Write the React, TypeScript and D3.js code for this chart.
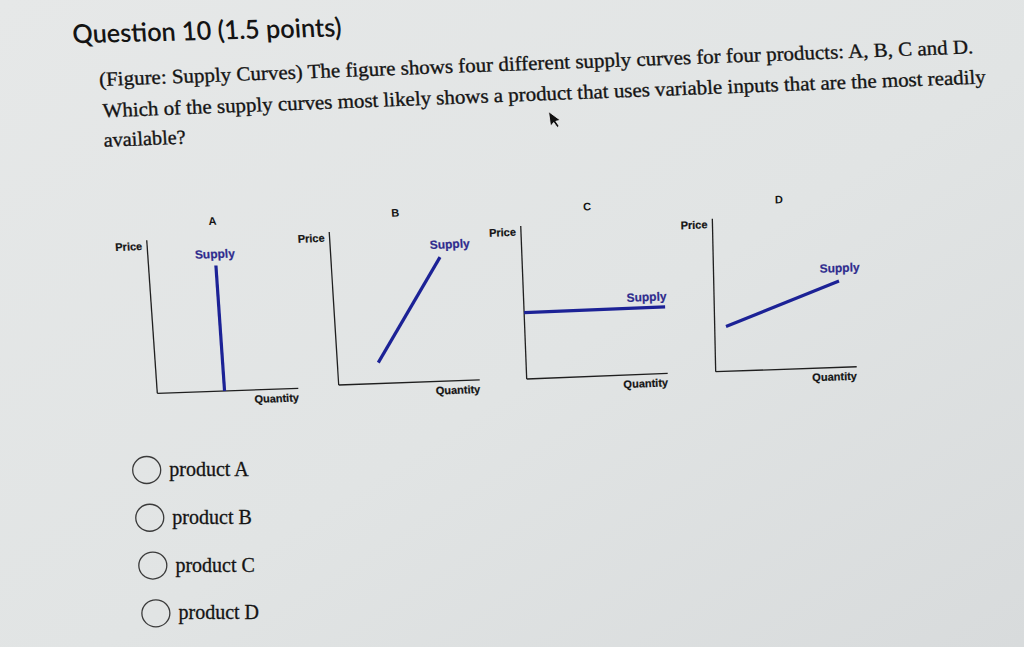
import React from "react";
import * as d3 from "d3";

// ---- content / data ----
const title = "Question 10 (1.5 points)";
const bodyLines = [
  "(Figure: Supply Curves) The figure shows four different supply curves for four products: A, B, C and D.",
  "Which of the supply curves most likely shows a product that uses variable inputs that are the most readily",
  "available?",
];
const options = ["product A", "product B", "product C", "product D"];

const panelNames = ["A", "B", "C", "D"];
// supply curve endpoints in (quantity, price) units, domain 0..10
const supplyQ = [[4.77, 4.77], [2.9, 7.73], [0, 10], [0.8, 8.88]];
const supplyP = [[0, 8.2], [1.37, 8.1], [4.34, 4.34], [2.93, 5.64]];
// "Supply" label anchors in the same units
const supplyLabelQ = [4.75, 8.47, 8.71, 8.94];
const supplyLabelP = [8.68, 8.66, 4.77, 6.23];
const axisX = "Quantity";
const axisY = "Price";
const curveLabel = "Supply";

// ---- layout (photo perspective approximated per panel) ----
const W = 1024;
const H = 647;
const panelFrames = [
  { x: 157.3, y: 393.3, slope: -0.035, lean: 0.069 },
  { x: 338.7, y: 385.0, slope: -0.036, lean: 0.062 },
  { x: 526.7, y: 379.0, slope: -0.04, lean: 0.039 },
  { x: 715.7, y: 371.7, slope: -0.035, lean: 0.022 },
];
const bodyFrames = [
  { x: 99.5, y: 86, slope: -0.0374, lean: 0.06, len: 874 },
  { x: 103, y: 117.3, slope: -0.0385, lean: 0.06, len: 883 },
  { x: 104, y: 146.7, slope: -0.038, lean: 0.06, len: 82 },
];

const xScale = d3.scaleLinear().domain([0, 10]).range([0, 141]);
const yScale = d3.scaleLinear().domain([0, 10]).range([0, -153]);
const optY = d3.scalePoint<string>().domain(options).range([470, 613.3]);

const LINE = "#1c2296";
const LABEL = "#2f2c8e";
const AXIS = "#1f1f1f";
const INK = "#141414";
const SANS = "'Liberation Sans', Arial, Helvetica, sans-serif";
const SERIF = "'Liberation Serif', 'Times New Roman', Times, serif";

function Panel({ i }: { i: number }) {
  const f = panelFrames[i];
  const line = d3.line<[number, number]>()
    .x((d) => xScale(d[0]))
    .y((d) => yScale(d[1]));
  const pts: [number, number][] = [
    [supplyQ[i][0], supplyP[i][0]],
    [supplyQ[i][1], supplyP[i][1]],
  ];
  const [x0, x1] = xScale.range();
  const [y0, y1] = yScale.range();
  return (
    <g transform={`matrix(1,${f.slope},${f.lean},1,${f.x},${f.y})`}>
      <line x1={x0} y1={y0} x2={x0} y2={y1} stroke={AXIS} strokeWidth={1.3} />
      <line x1={x0} y1={y0} x2={x1} y2={y0} stroke={AXIS} strokeWidth={1.3} />
      <path d={line(pts) || ""} stroke={LINE} strokeWidth={3.2} fill="none" />
      <text x={67} y={-166} textAnchor="middle" fontFamily={SANS} fontWeight="bold" fontSize={11} fill={INK}>
        {panelNames[i]}
      </text>
      <text x={-5} y={-143.5} textAnchor="end" fontFamily={SANS} fontWeight="bold" fontSize={11} fill={INK}
        stroke={INK} strokeWidth={0.2}>
        {axisY}
      </text>
      <text x={x1} y={13} textAnchor="end" fontFamily={SANS} fontWeight="bold" fontSize={11} fill={INK}
        stroke={INK} strokeWidth={0.2}>
        {axisX}
      </text>
      <text
        x={xScale(supplyLabelQ[i])}
        y={yScale(supplyLabelP[i])}
        textAnchor="middle"
        fontFamily={SANS}
        fontWeight="bold"
        fontSize={12}
        fill={LABEL}
        stroke={LABEL}
        strokeWidth={0.2}
      >
        {curveLabel}
      </text>
    </g>
  );
}

export default function App() {
  return (
    <svg
      width={W}
      height={H}
      viewBox={`0 0 ${W} ${H}`}
      style={{ position: "absolute", left: 0, top: 0, display: "block" }}
    >
      <defs>
        <linearGradient id="bg" x1="0" y1="0" x2="1" y2="1">
          <stop offset="0" stopColor="#e6e8e8" />
          <stop offset="0.55" stopColor="#e1e4e4" />
          <stop offset="1" stopColor="#d8dbdc" />
        </linearGradient>
      </defs>
      <rect x={0} y={0} width={W} height={H} fill="url(#bg)" />

      <g transform={`matrix(1,-0.026,0.07,1,73,43.3)`}>
        <text x={0} y={0} fontFamily="Lato, 'Open Sans', sans-serif" fontWeight={600} fontSize={26} fill={INK}
          textLength={269} lengthAdjust="spacingAndGlyphs">
          {title}
        </text>
      </g>

      {bodyLines.map((t, k) => {
        const f = bodyFrames[k];
        return (
          <g key={k} transform={`matrix(1,${f.slope},${f.lean},1,${f.x},${f.y})`}>
            <text x={0} y={0} fontFamily={SERIF} fontSize={20} fill={INK} stroke={INK} strokeWidth={0.35}
              textLength={f.len} lengthAdjust="spacingAndGlyphs">
              {t}
            </text>
          </g>
        );
      })}

      {panelNames.map((_, i) => (
        <Panel key={i} i={i} />
      ))}

      {options.map((o) => {
        const cy = optY(o) as number;
        const cx = 146.7 + (cy - 470) * 0.064;
        return (
          <g key={o}>
            <ellipse cx={cx} cy={cy} rx={14} ry={13.5} fill="none" stroke="#3a3a3a" strokeWidth={1.3} />
            <text x={cx + 22.6} y={cy + 6} fontFamily={SERIF} fontSize={20} fill={INK} stroke={INK} strokeWidth={0.3}>
              {o}
            </text>
          </g>
        );
      })}

      {/* mouse pointer */}
      <path
        d="M0,0 L0,15 L3.6,11.6 L6.4,17 L8.6,16 L5.9,10.7 L10.6,10.4 Z"
        transform="translate(548.5,111.5) rotate(-8)"
        fill="#111"
        stroke="#f4f4f4"
        strokeWidth={0.8}
      />
    </svg>
  );
}
